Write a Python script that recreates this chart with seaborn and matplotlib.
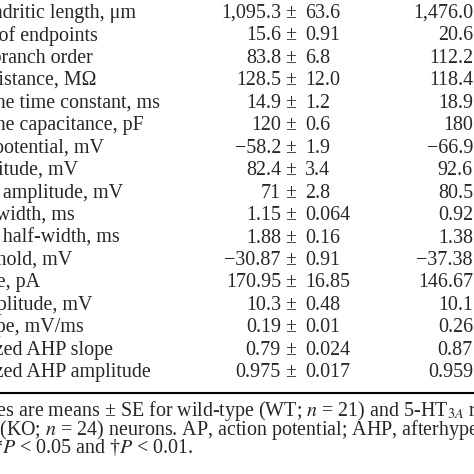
import matplotlib
matplotlib.use("Agg")
import matplotlib.pyplot as plt
import seaborn as sns

# table contents (WT mean, WT SE, KO mean)
labels = [
    "Total dendritic length, μm", "Number of endpoints", "Sum of branch order",
    "Input resistance, MΩ", "Membrane time constant, ms", "Membrane capacitance, pF",
    "Resting potential, mV", "AP amplitude, mV", "Final AP amplitude, mV",
    "AP half-width, ms", "Final AP half-width, ms", "AP threshold, mV",
    "Rheobase, pA", "AHP amplitude, mV", "AHP slope, mV/ms",
    "Normalized AHP slope", "Normalized AHP amplitude",
]
wt_mean = ["1,095.3", "15.6", "83.8", "128.5", "14.9", "120", "−58.2", "82.4", "71",
           "1.15", "1.88", "−30.87", "170.95", "10.3", "0.19", "0.79", "0.975"]
wt_se = ["63.6", "0.91", "6.8", "12.0", "1.2", "0.6", "1.9", "3.4", "2.8",
         "0.064", "0.16", "0.91", "16.85", "0.48", "0.01", "0.024", "0.017"]
ko_mean = ["1,476.0", "20.6", "112.2", "118.4", "18.9", "180", "−66.9", "92.6", "80.5",
           "0.92", "1.38", "−37.38", "146.67", "10.1", "0.26", "0.87", "0.959"]
footer = [
    "Values are means ± SE for wild-type (WT; $n$ = 21) and 5-HT$_{3A}$ receptor",
    "knockout (KO; $n$ = 24) neurons. AP, action potential; AHP, afterhyperpolarization.",
    "*$P$ < 0.05 and †$P$ < 0.01.",
]

sns.set_theme(style="white")
plt.rcParams["font.family"] = ["Liberation Serif", "DejaVu Serif"]
plt.rcParams["mathtext.fontset"] = "stix"

fig = plt.figure(figsize=(4.74, 4.74), dpi=100)
ax = fig.add_axes([0, 0, 1, 1])
ax.set_xlim(0, 474)
ax.set_ylim(474, 0)
ax.axis("off")

fs = 14.4
y0, dy = 13.5, 22.45
for i, lab in enumerate(labels):
    y = y0 + i * dy
    ax.text(-72, y, lab, ha="left", va="center", fontsize=fs, clip_on=False)
    ax.text(281, y, wt_mean[i], ha="right", va="center", fontsize=fs)
    ax.text(291, y, "±", ha="center", va="center", fontsize=fs)
    ax.text(305, y, wt_se[i], ha="left", va="center", fontsize=fs)
    ax.text(473, y, ko_mean[i], ha="right", va="center", fontsize=fs)

ax.plot([0, 474], [392.5, 392.5], color="black", lw=1.5)

ax.text(-42, 411, footer[0], ha="left", va="center", fontsize=fs)
ax.text(-80, 430, footer[1], ha="left", va="center", fontsize=fs)
ax.text(-8, 448, footer[2], ha="left", va="center", fontsize=fs)

fig.savefig("out.png", dpi=100)
